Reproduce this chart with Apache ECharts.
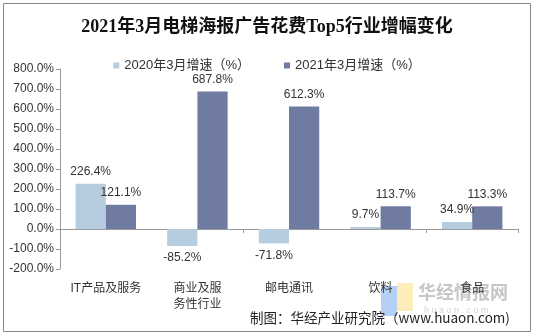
<!DOCTYPE html>
<html><head><meta charset="utf-8">
<script src="https://cdn.jsdelivr.net/npm/echarts@6/dist/echarts.min.js"></script>
<style>html,body{margin:0;padding:0;background:#fff}#c{width:534px;height:335px}</style>
</head><body><div id="c"></div>
<script>
const categories = ['IT产品及服务', '商业及服\n务性行业', '邮电通讯', '饮料', '食品'];
const series2020 = [226.4, -85.2, -71.8, 9.7, 34.9];
const series2021 = [121.1, 687.8, 612.3, 113.7, 113.3];
const seriesNames = ['2020年3月增速（%）', '2021年3月增速（%）'];
const titleText = '2021年3月电梯海报广告花费Top5行业增幅变化';
const sourceText = '制图：华经产业研究院（www.huaon.com)';

const font = '"Liberation Sans", "Noto Sans CJK SC", sans-serif';
function mk(vals) {
  return vals.map(v => ({value: v, label: {position: v < 0 ? 'bottom' : 'top'}}));
}
const chart = echarts.init(document.getElementById('c'), null, {renderer: 'canvas'});
chart.setOption({
  animation: false,
  backgroundColor: '#fff',
  title: {text: titleText, left: 'center', top: 13,
    textStyle: {fontFamily: '"Liberation Serif", "Noto Sans CJK SC", serif', fontSize: 18, fontWeight: 'bold', color: '#111'}},
  legend: {top: 54, left: 'center', itemWidth: 6, itemHeight: 6, itemGap: 34, icon: 'rect',
    textStyle: {fontFamily: font, fontSize: 13, color: '#333'}, data: seriesNames},
  grid: {left: 60, right: 16, top: 69, bottom: 66},
  xAxis: [
    {type: 'category', data: categories, position: 'bottom',
     axisLine: {show: false, onZero: false}, axisTick: {show: false},
     axisLabel: {margin: 12, fontFamily: font, fontSize: 12, color: '#333', lineHeight: 16, interval: 0}},
    {type: 'category', data: categories, position: 'bottom',
     axisLine: {show: true, onZero: true, lineStyle: {color: '#999'}},
     axisTick: {show: true, length: 4, lineStyle: {color: '#999'}},
     axisLabel: {show: false}}
  ],
  yAxis: {type: 'value', min: -200, max: 800, interval: 100,
    axisLine: {show: true, lineStyle: {color: '#999'}},
    axisTick: {show: true, length: 4, lineStyle: {color: '#999'}},
    splitLine: {show: false},
    axisLabel: {fontFamily: font, fontSize: 12, color: '#333', margin: 6, formatter: v => v.toFixed(1) + '%'}},
  series: [
    {name: seriesNames[0], type: 'bar', data: mk(series2020), barGap: 0, barCategoryGap: '34%',
     itemStyle: {color: '#b6cde0'},
     label: {show: true, distance: 6, fontFamily: font, fontSize: 12, color: '#333', formatter: p => p.value.toFixed(1) + '%'}},
    {name: seriesNames[1], type: 'bar', data: mk(series2021), barGap: 0, barCategoryGap: '34%',
     itemStyle: {color: '#707ba2'},
     label: {show: true, distance: 6, fontFamily: font, fontSize: 12, color: '#333', formatter: p => p.value.toFixed(1) + '%'}}
  ],
  graphic: [
    {type: 'rect', shape: {x: 3.5, y: 3.5, width: 527, height: 328}, style: {fill: 'none', stroke: '#888', lineWidth: 1}, silent: true},
    {type: 'rect', shape: {x: 381, y: 286, width: 16, height: 30}, style: {fill: 'rgba(120,170,240,0.55)'}, silent: true},
    {type: 'rect', shape: {x: 397, y: 283, width: 16, height: 28}, style: {fill: 'rgba(250,220,120,0.5)'}, silent: true},
    {type: 'text', left: 418, top: 283, style: {text: '华经情报网', fontFamily: '"Noto Sans CJK SC"', fontSize: 18, fontWeight: 'bold', fill: 'rgba(160,160,160,0.6)'}, silent: true},
    {type: 'text', left: 424, top: 306, style: {text: 'h u a o n . c o m', fontFamily: font, fontSize: 9, fill: 'rgba(180,180,180,0.6)'}, silent: true},
    {type: 'text', left: 250, top: 311, style: {text: sourceText, fontFamily: '"Noto Sans CJK SC", sans-serif', fontSize: 13.5, fill: '#222'}}
  ]
});
</script></body></html>
